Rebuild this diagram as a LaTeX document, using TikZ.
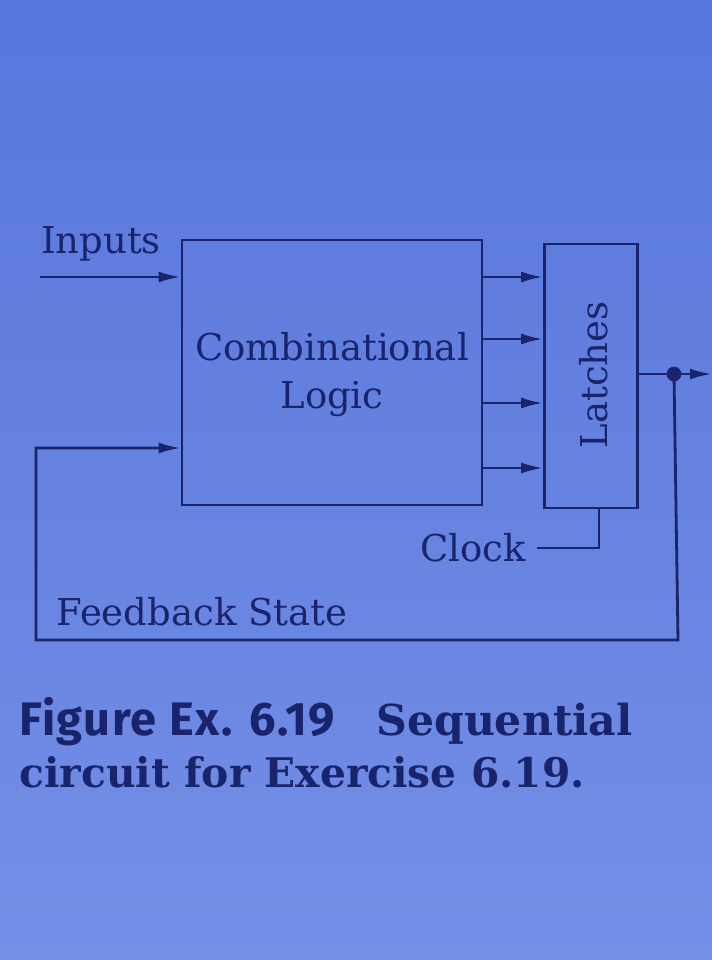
\documentclass[tikz,border=0pt]{standalone}
\usepackage{fontspec}
\usetikzlibrary{arrows.meta, positioning, calc}
\newfontfamily\capsans{Fira Sans}[LetterSpace=3]
\newfontfamily\labserif{DejaVu Serif}
\definecolor{paper}{RGB}{116, 143, 230}
\definecolor{papertop}{RGB}{88, 118, 220}
\definecolor{ink}{RGB}{26, 36, 108}

\begin{document}
\begin{tikzpicture}[x=0.5pt, y=-0.5pt,
    line width=1.4pt, draw=ink, text=ink,
    blockbox/.style={rectangle, draw=ink, line width=1.4pt, inner sep=0pt},
    lbl/.style={font=\labserif\fontsize{18.5}{23}\selectfont, inner sep=0pt},
    sig/.style={draw=ink, -{Latex[length=11pt, width=5.5pt]}},
    wire/.style={draw=ink}]

    % Page
    \shade[top color=papertop, bottom color=paper] (0,0) rectangle (712,960);
    \useasboundingbox (0,0) rectangle (712,960);

    % Blocks
    \node[blockbox, minimum width=150pt, minimum height=132.5pt] (comb) at (332,372.5) {};
    \node[lbl, align=center] (combtxt) at (332,375) {Combinational\\[1pt]Logic};
    \node[blockbox, minimum width=46.5pt, minimum height=132pt] (latch) at (591,376) {};
    \node[lbl, rotate=90] (latchtxt) at (594,375) {Latches};

    % Comb -> Latches
    \foreach \yy in {277,339,403,468}
        \draw[sig] (comb.east |- 0,\yy) -- (latch.west |- 0,\yy);

    % Inputs
    \coordinate (in) at (40,277);
    \node[lbl] (inputs) at (101,244) {Inputs};
    \draw[sig] (in) -- (comb.west |- in);

    % Output and feedback
    \coordinate (dot) at (674,374);
    \coordinate (out) at (712,374);
    \draw[wire] (latch.east |- dot) -- (dot);
    \draw[sig] (dot) -- (out);
    \fill[ink] (dot) circle (3.7pt);
    \coordinate (fbr) at (678,640);
    \coordinate (fbl) at (36,640);
    \coordinate (fbt) at (36,448);
    \draw[sig] (dot) -- (fbr) -- (fbl) -- (fbt) -- (comb.west |- fbt);
    \node[lbl, anchor=base west] (fbstate) at (55,625) {Feedback State};

    % Clock
    \coordinate (clk) at (537,548);
    \draw[wire] ([xshift=4pt]latch.south) |- (clk);
    \node[lbl, left=5pt of clk] (clock) {Clock};

    % Caption
    \node[anchor=base west, inner sep=0pt, font=\capsans\bfseries\fontsize{23.5}{26}\selectfont] (figno) at (18,735) {Figure Ex. 6.19};
    \node[anchor=base west, inner sep=0pt, font=\labserif\bfseries\fontsize{21.3}{26}\selectfont] (cap1) at (375,735) {Sequential};
    \node[anchor=base west, inner sep=0pt, font=\labserif\bfseries\fontsize{20.4}{26}\selectfont] (cap2) at (18,787) {circuit for Exercise 6.19.};
\end{tikzpicture}
\end{document}
